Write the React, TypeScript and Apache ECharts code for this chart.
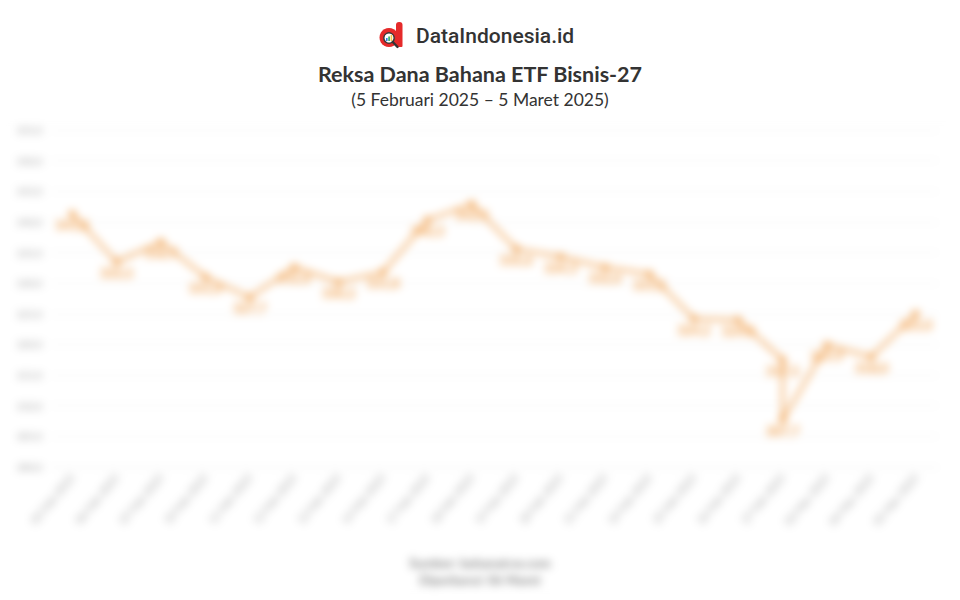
import React, { useEffect, useRef } from "react";
import * as echarts from "echarts";

// x-axis category labels (20 trading-day labels)
const dates = [
  "05 Feb 2025", "06 Feb 2025", "07 Feb 2025", "10 Feb 2025", "11 Feb 2025",
  "12 Feb 2025", "13 Feb 2025", "14 Feb 2025", "17 Feb 2025", "18 Feb 2025",
  "19 Feb 2025", "20 Feb 2025", "21 Feb 2025", "24 Feb 2025", "25 Feb 2025",
  "26 Feb 2025", "27 Feb 2025", "03 Mar 2025", "04 Mar 2025", "05 Mar 2025",
];
// which label each point belongs to (one label carries two points)
const pointDateIndex = [0, 1, 2, 3, 4, 5, 6, 7, 8, 9, 10, 11, 12, 13, 14, 15, 16, 16, 17, 18, 19];
// NAV values
const navValues = [
  341.3, 333.5, 336.7, 331.0, 327.7, 332.6, 330.2, 331.8, 340.3, 342.9,
  335.6, 334.3, 332.6, 331.5, 324.2, 324.0, 317.5, 307.7, 319.9, 318.0, 325.0,
];
const yMin = 300;
const yMax = 355;
const yStep = 5;

const title = "Reksa Dana Bahana ETF Bisnis-27";
const subtitle = "(5 Februari 2025 – 5 Maret 2025)";
const brand = "DataIndonesia.id";
const sourceLines = ["Sumber: bahanatcw.com", "Diperbarui: 06 Maret"];

const LINE = "#f0a04e";

export default function App() {
  const headRef = useRef<HTMLDivElement>(null);
  const bodyRef = useRef<HTMLDivElement>(null);

  useEffect(() => {
    const head = echarts.init(headRef.current!, undefined, { renderer: "svg" });
    head.setOption({
      animation: false,
      backgroundColor: "#ffffff",
      graphic: [
        { type: "circle", shape: { cx: 389, cy: 37.5, r: 9.5 }, style: { fill: "#e52a2a" } },
        { type: "rect", shape: { x: 396, y: 22, width: 6.5, height: 25, r: [3, 3, 1, 1] }, style: { fill: "#e52a2a" } },
        { type: "circle", shape: { cx: 389, cy: 38, r: 5.2 }, style: { fill: "#ffffff", stroke: "#3a3a3a", lineWidth: 1.4 } },
        { type: "rect", shape: { x: 386, y: 38, width: 1.6, height: 3 }, style: { fill: "#2f80ed" } },
        { type: "rect", shape: { x: 388.3, y: 36.5, width: 1.6, height: 4.5 }, style: { fill: "#27ae60" } },
        { type: "rect", shape: { x: 390.6, y: 35, width: 1.6, height: 6 }, style: { fill: "#f2c94c" } },
        { type: "line", shape: { x1: 392.8, y1: 42, x2: 397.5, y2: 47 }, style: { stroke: "#333333", lineWidth: 2.4, lineCap: "round" } },
        {
          type: "text", x: 416, y: 35.5,
          style: { text: brand, fill: "#333333", font: "500 21px Roboto", textVerticalAlign: "middle" },
        },
        {
          type: "text", x: 480, y: 74,
          style: { text: title, fill: "#333333", font: "bold 21.5px Lato", textAlign: "center", textVerticalAlign: "middle" },
        },
        {
          type: "text", x: 480, y: 99,
          style: { text: subtitle, fill: "#333333", font: "17.5px Lato", textAlign: "center", textVerticalAlign: "middle" },
        },
      ],
    });

    const body = echarts.init(bodyRef.current!, undefined, { renderer: "svg" });
    body.setOption({
      animation: false,
      backgroundColor: "#ffffff",
      grid: { left: 50, right: 22, top: 15, bottom: 133, containLabel: false },
      xAxis: {
        type: "category",
        data: dates,
        boundaryGap: true,
        axisLine: { show: true, lineStyle: { color: "#ececec" } },
        axisTick: { show: false },
        axisLabel: { rotate: 50, fontSize: 11, color: "#a8a8a8", fontFamily: "Lato", margin: 8, interval: 0 },
      },
      yAxis: {
        type: "value",
        min: yMin,
        max: yMax,
        interval: yStep,
        axisLine: { show: false },
        axisTick: { show: false },
        axisLabel: {
          fontSize: 10, color: "#a0a0a0", fontFamily: "Lato", margin: 8,
          formatter: (v: number) => v.toFixed(1).replace(".", ","),
        },
        splitLine: { lineStyle: { color: "#eeeeee" } },
      },
      series: [
        {
          type: "line",
          data: pointDateIndex.map((d, k) => [d, navValues[k]]),
          lineStyle: { color: LINE, width: 2.5 },
          itemStyle: { color: LINE },
          symbol: "circle",
          symbolSize: 7,
          label: {
            show: true,
            position: "bottom",
            distance: 1,
            color: LINE,
            fontSize: 13,
            fontWeight: "bold",
            fontFamily: "Lato",
            formatter: (p: any) => p.value[1].toFixed(1).replace(".", ","),
          },
        },
      ],
      graphic: [
        {
          type: "text", x: 480, y: 448,
          style: { text: sourceLines[0], fill: "#8c8c8c", font: "bold 13px Lato", textAlign: "center", textVerticalAlign: "middle" },
        },
        {
          type: "text", x: 480, y: 465,
          style: { text: sourceLines[1], fill: "#8c8c8c", font: "bold 13px Lato", textAlign: "center", textVerticalAlign: "middle" },
        },
      ],
    });

    return () => {
      head.dispose();
      body.dispose();
    };
  }, []);

  return (
    <div style={{ position: "fixed", left: 0, top: 0, width: 960, height: 600, background: "#ffffff", overflow: "hidden" }}>
      <div ref={headRef} style={{ position: "absolute", left: 0, top: 0, width: 960, height: 115 }} />
      <div
        ref={bodyRef}
        style={{ position: "absolute", left: 0, top: 115, width: 960, height: 485, filter: "blur(4px)" }}
      />
    </div>
  );
}
